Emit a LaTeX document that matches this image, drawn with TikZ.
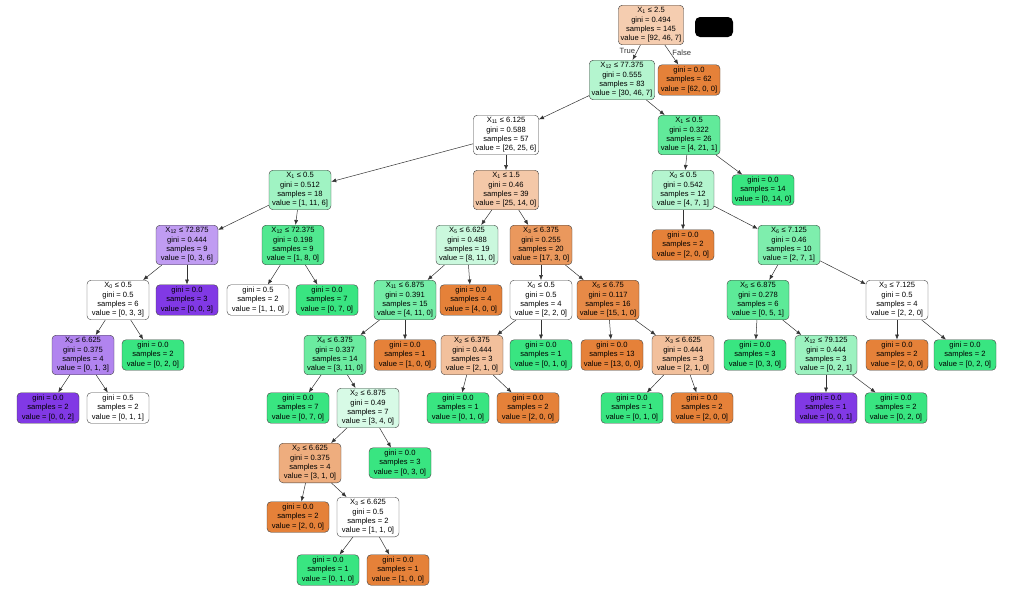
\documentclass[tikz,border=0pt]{standalone}
\usepackage{fontspec}
\setmainfont{Liberation Sans}
\usetikzlibrary{arrows.meta}
\definecolor{cor}{HTML}{E58139}
\definecolor{cg}{HTML}{39E581}
\definecolor{cp}{HTML}{8139E5}
\tikzset{tn/.style={draw=black!75,rounded corners=4pt,align=center,font=\fontsize{7.6}{9.3}\selectfont,inner sep=2.4pt,minimum width=62pt},
 ed/.style={-{Latex[length=5pt,width=4pt]},black!80,line width=0.5pt}}
\newcommand{\tnode}[5]{\node[tn,fill=#4] (n#1) at (#2,#3) {#5};}
\newcommand{\X}[2]{X\textsubscript{#1} ≤ #2}
\begin{document}
\begin{tikzpicture}[x=1pt,y=-1pt]
\useasboundingbox (0,0) rectangle (1024,605);
\tnode{0}{651}{25}{cor!40}{\X{1}{2.5}\\gini = 0.494\\samples = 145\\value = [92, 46, 7]}
\node[fill=black,rounded corners=5pt,minimum width=38pt,minimum height=20pt] (blk) at (714,27) {};
\tnode{1}{622}{80}{cg!38}{\X{12}{77.375}\\gini = 0.555\\samples = 83\\value = [30, 46, 7]}
\tnode{2}{689}{80}{cor}{gini = 0.0\\samples = 62\\value = [62, 0, 0]}
\tnode{3}{506}{135}{white}{\X{11}{6.125}\\gini = 0.588\\samples = 57\\value = [26, 25, 6]}
\tnode{4}{689}{135}{cg!80}{\X{1}{0.5}\\gini = 0.322\\samples = 26\\value = [4, 21, 1]}
\tnode{5}{300}{190}{cg!48}{\X{1}{0.5}\\gini = 0.512\\samples = 18\\value = [1, 11, 6]}
\tnode{6}{506}{190}{cor!44}{\X{1}{1.5}\\gini = 0.46\\samples = 39\\value = [25, 14, 0]}
\tnode{7}{683}{190}{cg!38}{\X{0}{0.5}\\gini = 0.542\\samples = 12\\value = [4, 7, 1]}
\tnode{8}{763}{190}{cg}{gini = 0.0\\samples = 14\\value = [0, 14, 0]}
\tnode{9}{187}{245}{cp!50}{\X{12}{72.875}\\gini = 0.444\\samples = 9\\value = [0, 3, 6]}
\tnode{10}{293}{245}{cg!88}{\X{12}{72.375}\\gini = 0.198\\samples = 9\\value = [1, 8, 0]}
\tnode{11}{467}{245}{cg!27}{\X{5}{6.625}\\gini = 0.488\\samples = 19\\value = [8, 11, 0]}
\tnode{12}{541}{245}{cor!82}{\X{3}{6.375}\\gini = 0.255\\samples = 20\\value = [17, 3, 0]}
\tnode{13}{683}{245}{cor}{gini = 0.0\\samples = 2\\value = [2, 0, 0]}
\tnode{14}{789}{245}{cg!65}{\X{6}{7.125}\\gini = 0.46\\samples = 10\\value = [2, 7, 1]}
\tnode{15}{118}{300}{white}{\X{0}{0.5}\\gini = 0.5\\samples = 6\\value = [0, 3, 3]}
\tnode{16}{187}{300}{cp}{gini = 0.0\\samples = 3\\value = [0, 0, 3]}
\tnode{17}{258}{300}{white}{gini = 0.5\\samples = 2\\value = [1, 1, 0]}
\tnode{18}{327}{300}{cg}{gini = 0.0\\samples = 7\\value = [0, 7, 0]}
\tnode{19}{405}{300}{cg!70}{\X{11}{6.875}\\gini = 0.391\\samples = 15\\value = [4, 11, 0]}
\tnode{20}{471}{300}{cor}{gini = 0.0\\samples = 4\\value = [4, 0, 0]}
\tnode{21}{541}{300}{white}{\X{0}{0.5}\\gini = 0.5\\samples = 4\\value = [2, 2, 0]}
\tnode{22}{608}{300}{cor!93}{\X{5}{6.75}\\gini = 0.117\\samples = 16\\value = [15, 1, 0]}
\tnode{23}{758}{300}{cg!82}{\X{5}{6.875}\\gini = 0.278\\samples = 6\\value = [0, 5, 1]}
\tnode{24}{897}{300}{white}{\X{3}{7.125}\\gini = 0.5\\samples = 4\\value = [2, 2, 0]}
\tnode{25}{83}{355}{cp!62}{\X{2}{6.625}\\gini = 0.375\\samples = 4\\value = [0, 1, 3]}
\tnode{26}{153}{355}{cg}{gini = 0.0\\samples = 2\\value = [0, 2, 0]}
\tnode{27}{335}{355}{cg!75}{\X{4}{6.375}\\gini = 0.337\\samples = 14\\value = [3, 11, 0]}
\tnode{28}{405}{355}{cor}{gini = 0.0\\samples = 1\\value = [1, 0, 0]}
\tnode{29}{472}{355}{cor!50}{\X{2}{6.375}\\gini = 0.444\\samples = 3\\value = [2, 1, 0]}
\tnode{30}{541}{355}{cg}{gini = 0.0\\samples = 1\\value = [0, 1, 0]}
\tnode{31}{612}{355}{cor}{gini = 0.0\\samples = 13\\value = [13, 0, 0]}
\tnode{32}{683}{355}{cor!50}{\X{3}{6.625}\\gini = 0.444\\samples = 3\\value = [2, 1, 0]}
\tnode{33}{755}{355}{cg}{gini = 0.0\\samples = 3\\value = [0, 3, 0]}
\tnode{34}{826}{355}{cg!50}{\X{12}{79.125}\\gini = 0.444\\samples = 3\\value = [0, 2, 1]}
\tnode{35}{897}{355}{cor}{gini = 0.0\\samples = 2\\value = [2, 0, 0]}
\tnode{36}{965}{355}{cg}{gini = 0.0\\samples = 2\\value = [0, 2, 0]}
\tnode{37}{48}{408}{cp}{gini = 0.0\\samples = 2\\value = [0, 0, 2]}
\tnode{38}{118}{408}{white}{gini = 0.5\\samples = 2\\value = [0, 1, 1]}
\tnode{39}{298}{408}{cg}{gini = 0.0\\samples = 7\\value = [0, 7, 0]}
\tnode{40}{368}{408}{cg!20}{\X{2}{6.875}\\gini = 0.49\\samples = 7\\value = [3, 4, 0]}
\tnode{41}{458}{408}{cg}{gini = 0.0\\samples = 1\\value = [0, 1, 0]}
\tnode{42}{528}{408}{cor}{gini = 0.0\\samples = 2\\value = [2, 0, 0]}
\tnode{43}{632}{408}{cg}{gini = 0.0\\samples = 1\\value = [0, 1, 0]}
\tnode{44}{702}{408}{cor}{gini = 0.0\\samples = 2\\value = [2, 0, 0]}
\tnode{45}{826}{408}{cp}{gini = 0.0\\samples = 1\\value = [0, 0, 1]}
\tnode{46}{896}{408}{cg}{gini = 0.0\\samples = 2\\value = [0, 2, 0]}
\tnode{47}{310}{463}{cor!65}{\X{2}{6.625}\\gini = 0.375\\samples = 4\\value = [3, 1, 0]}
\tnode{48}{400}{463}{cg}{gini = 0.0\\samples = 3\\value = [0, 3, 0]}
\tnode{49}{298}{517}{cor}{gini = 0.0\\samples = 2\\value = [2, 0, 0]}
\tnode{50}{368}{517}{white}{\X{3}{6.625}\\gini = 0.5\\samples = 2\\value = [1, 1, 0]}
\tnode{51}{328}{570}{cg}{gini = 0.0\\samples = 1\\value = [0, 1, 0]}
\tnode{52}{398}{570}{cor}{gini = 0.0\\samples = 1\\value = [1, 0, 0]}
\draw[ed] (n0) -- node[pos=0.4,left,font=\fontsize{7.6}{8}\selectfont,inner sep=2pt]{True} (n1);
\draw[ed] (n0) -- node[pos=0.4,right,font=\fontsize{7.6}{8}\selectfont,inner sep=2pt]{False} (n2);
\foreach \a/\b in {1/3,1/4,3/5,3/6,4/7,4/8,5/9,5/10,6/11,6/12,7/13,7/14,9/15,9/16,10/17,10/18,11/19,11/20,12/21,12/22,14/23,14/24,15/25,15/26,19/27,19/28,21/29,21/30,22/31,22/32,23/33,23/34,24/35,24/36,25/37,25/38,27/39,27/40,29/41,29/42,32/43,32/44,34/45,34/46,40/47,40/48,47/49,47/50,50/51,50/52}
 \draw[ed] (n\a) -- (n\b);
\end{tikzpicture}
\end{document}
